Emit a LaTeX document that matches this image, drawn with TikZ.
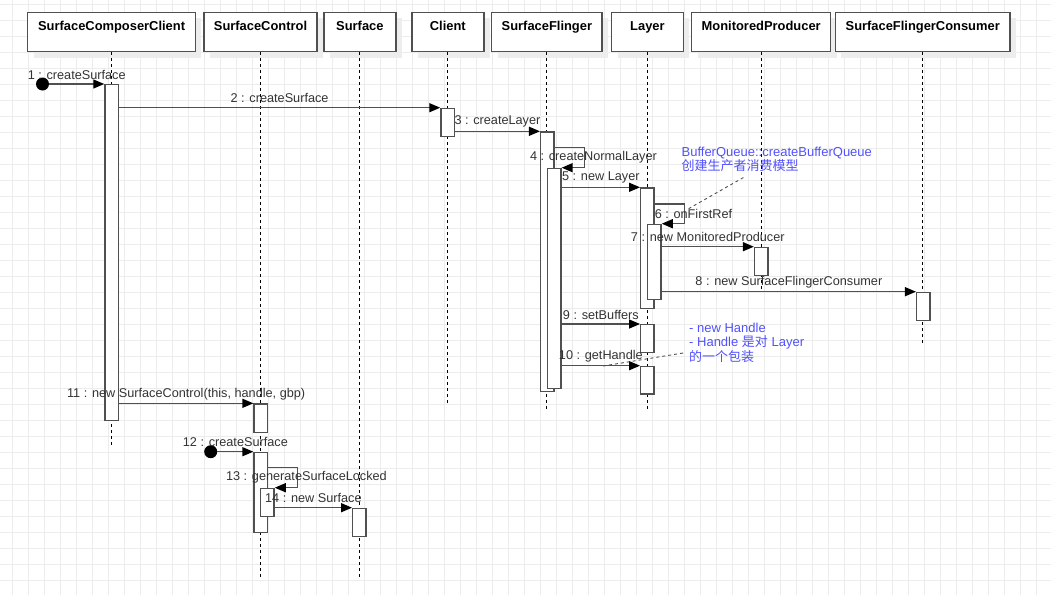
\documentclass[tikz,border=0pt]{standalone}
\usepackage{fontspec}
\setmainfont{Liberation Sans}
\newfontfamily\cjk{Noto Sans CJK SC}
\usetikzlibrary{arrows.meta,shadows}
\definecolor{linegray}{RGB}{80,80,80}
\definecolor{textgray}{RGB}{51,51,51}
\definecolor{notecolor}{RGB}{80,80,255}
\definecolor{gridgray}{RGB}{236,236,236}

\begin{document}
\begin{tikzpicture}[x=1pt, y=-1pt,
  head/.style={draw=linegray, line width=1.4pt, fill=white,
    font=\bfseries\fontsize{12.9}{14}\selectfont, minimum width=#1,
    text height=13.6pt, text depth=17.7pt, inner sep=4pt, anchor=north,
    drop shadow={shadow xshift=6pt, shadow yshift=-6pt, fill=black!7, opacity=1}},
  actbox/.style={draw=linegray, line width=1.4pt, fill=white,
    minimum width=13.3pt, minimum height=#1, inner sep=0pt, anchor=north},
  lifeline/.style={draw=black, line width=0.9pt, dash pattern=on 3pt off 3pt},
  msg/.style={draw=linegray, line width=1.4pt, -{Triangle[length=11pt,width=9pt,color=black]}},
  msgtext/.style={font=\fontsize{12.7}{14}\selectfont, text=textgray, inner sep=0pt},
  lbl/.style={msgtext, midway, yshift=9.5pt},
  selflbl/.style={msgtext, pos=0.25, xshift=9pt},
  dot/.style={circle, fill=black, minimum size=13pt, inner sep=0pt},
  note/.style={text=notecolor, font=\fontsize{13}{13.6}\selectfont, align=left,
    anchor=north west, inner sep=0pt},
  notelink/.style={draw=linegray, line width=0.9pt, dash pattern=on 3pt off 3pt}]

  \useasboundingbox (0,0) rectangle (1051,595);

  \foreach \gx in {0,...,64}
    \draw[gridgray, line width=0.8pt] (12.3+16*\gx,0) -- (12.3+16*\gx,595);
  \foreach \gy in {0,...,36}
    \draw[gridgray, line width=0.8pt] (0,4.3+16*\gy) -- (1051,4.3+16*\gy);

  \node[head=167.7pt] (scc) at (111.6,11.7) {SurfaceComposerClient};
  \node[head=113.2pt] (sc) at (260.5,11.7) {SurfaceControl};
  \node[head=72pt] (surf) at (359.9,11.7) {Surface};
  \node[head=72pt] (cli) at (447.8,11.7) {Client};
  \node[head=110.3pt] (sf) at (546.9,11.7) {SurfaceFlinger};
  \node[head=71.7pt] (lay) at (647.4,11.7) {Layer};
  \node[head=139pt] (mp) at (761.2,11.7) {MonitoredProducer};
  \node[head=174.6pt] (sfc) at (922.7,11.7) {SurfaceFlingerConsumer};

  \foreach \p/\e in {scc/445, sc/577, surf/577, cli/403, sf/408, lay/408, mp/290, sfc/342}
    \draw[lifeline] (\p.south) -- ++(0,\e-51);

  \node[actbox=336pt] (scc1) at (111.6,84) {};
  \node[actbox=28pt] (cli1) at (447.6,107.7) {};
  \node[actbox=259.4pt] (sf1) at (547.3,131.3) {};
  \node[actbox=220pt] (sf2) at (554.3,167.7) {};
  \node[actbox=120.4pt] (lay1) at (647.4,187.3) {};
  \node[actbox=75.3pt] (lay2) at (654.4,223.7) {};
  \node[actbox=28.3pt] (mp1) at (761.2,246.7) {};
  \node[actbox=28.3pt] (sfc1) at (923.3,291.7) {};
  \node[actbox=27.7pt] (lay3) at (647.4,324) {};
  \node[actbox=27.6pt] (lay4) at (647.4,365.7) {};
  \node[actbox=28.4pt] (sc1) at (260.7,403.3) {};
  \node[actbox=80pt] (sc2) at (260.7,451.7) {};
  \node[actbox=28pt] (sc3) at (267.4,487.7) {};
  \node[actbox=28pt] (surf1) at (359.4,507.7) {};

  \node[dot] (d1) at (42.5,84) {};
  \node[dot] (d2) at (210.7,451.7) {};

  \draw[msg] (d1) -- node[lbl]{1 : createSurface} (scc1.north west);
  \draw[msg] (scc1.east |- cli1.north) -- node[lbl]{2 : createSurface} (cli1.north west);
  \draw[msg] (cli1.east |- sf1.north) -- node[lbl]{3 : createLayer} (sf1.north west);
  \draw[msg] ([yshift=-16.4pt]sf1.north east) -- ++(29.8,0)
    |- node[selflbl]{4 : createNormalLayer} (sf2.north east);
  \draw[msg] (sf2.east |- lay1.north) -- node[lbl]{5 : new Layer} (lay1.north west);
  \draw[msg] ([yshift=-16.7pt]lay1.north east) -- ++(29.7,0)
    |- node[selflbl]{6 : onFirstRef} (lay2.north east);
  \draw[msg] (lay2.east |- mp1.north) -- node[lbl]{7 : new MonitoredProducer} (mp1.north west);
  \draw[msg] (lay2.east |- sfc1.north) -- node[lbl]{8 : new SurfaceFlingerConsumer} (sfc1.north west);
  \draw[msg] (sf2.east |- lay3.north) -- node[lbl]{9 : setBuffers} (lay3.north west);
  \draw[msg] (sf2.east |- lay4.north) -- node[lbl]{10 : getHandle} (lay4.north west);
  \draw[msg] (scc1.east |- sc1.north) -- node[lbl]{11 : new SurfaceControl(this, handle, gbp)} (sc1.north west);
  \draw[msg] (d2) -- node[lbl]{12 : createSurface} (sc2.north west);
  \draw[msg] ([yshift=-16pt]sc2.north east) -- ++(29.4,0)
    |- node[selflbl]{13 : generateSurfaceLocked} (sc3.north east);
  \draw[msg] (sc3.east |- surf1.north) -- node[lbl]{14 : new Surface} (surf1.north west);

  \node[note] (bufq) at (681.4,147) {BufferQueue::createBufferQueue\\{\cjk 创建生产者消费模型}};
  \node[note] (hdl) at (689,323.3) {- new Handle\\- Handle {\cjk 是对} Layer\\{\cjk 的一个包装}};

  \coordinate (bufqend) at (688,209);
  \coordinate (hdlend) at (603,366);
  \draw[notelink] ([xshift=62pt,yshift=-6pt]bufq.south west) -- (bufqend);
  \draw[notelink] ([xshift=-6pt,yshift=9.5pt]hdl.south west) -- (hdlend);

\end{tikzpicture}
\end{document}
